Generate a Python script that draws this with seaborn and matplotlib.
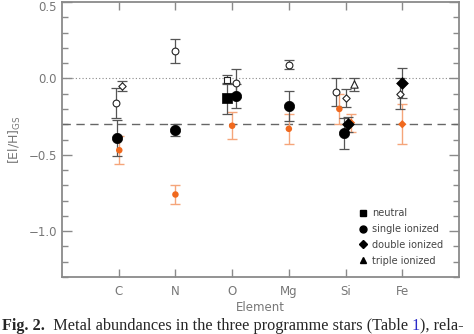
import numpy as np
import pandas as pd
import matplotlib
matplotlib.use("Agg")
import matplotlib.pyplot as plt
import matplotlib.transforms as mtransforms
import seaborn as sns
from matplotlib.lines import Line2D
from matplotlib.ticker import MultipleLocator

# ---------------- data ----------------
elements = ["C", "N", "O", "Mg", "Si", "Fe"]

# star A (open symbols)
a_el = ["C", "C", "N", "O", "O", "Mg", "Si", "Si", "Si", "Fe"]
a_ion = ["II", "III", "II", "I", "II", "II", "II", "III", "IV", "III"]
a_val = [-0.16, -0.05, 0.18, -0.01, -0.03, 0.09, -0.09, -0.13, -0.04, -0.10]
a_err = [0.10, 0.03, 0.08, 0.03, 0.09, 0.03, 0.09, 0.06, 0.045, 0.10]

# star B (filled black symbols)
b_el = ["C", "N", "O", "O", "Mg", "Si", "Si", "Fe"]
b_ion = ["II", "II", "I", "II", "II", "II", "III", "III"]
b_val = [-0.39, -0.34, -0.13, -0.115, -0.18, -0.36, -0.30, -0.03]
b_err = [0.12, 0.04, 0.10, 0.08, 0.10, 0.10, 0.05, 0.10]

# star C (orange symbols)
c_el = ["C", "N", "O", "Mg", "Si", "Si", "Fe"]
c_ion = ["II", "II", "II", "II", "II", "III", "III"]
c_val = [-0.47, -0.76, -0.31, -0.33, -0.20, -0.29, -0.30]
c_err = [0.09, 0.06, 0.09, 0.10, 0.10, 0.06, 0.13]

legend_labels = ["neutral", "single ionized", "double ionized", "triple ionized"]

# ---------------- layout / style ----------------
a_dx = [-0.05, 0.05, 0.0, -0.09, 0.07, 0.0, -0.16, 0.0, 0.14, -0.04]
b_dx = [-0.03, 0.0, -0.09, 0.07, 0.0, -0.035, 0.035, 0.0]
c_dx = [0.01, 0.0, 0.0, 0.0, -0.11, 0.095, 0.0]

markers = {"I": "s", "II": "o", "III": "D", "IV": "^"}
ORANGE = "#F0691E"
ORANGE_ERR = "#F5A57A"
GRAY = "#8a8a8a"
ERRGRAY = "#555555"

sns.set_style("ticks")
plt.rcParams['font.family'] = ['DejaVu Sans']

fig = plt.figure(figsize=(4.74, 3.34), dpi=100)
ax = fig.add_axes([62/474, 1-277/334, (459-62)/474, 275/334])

pos = {e: i + 1 for i, e in enumerate(elements)}

def make_df(el, ion, val, err, dx):
    df = pd.DataFrame({"el": el, "ion": ion, "val": val, "err": err, "dx": dx})
    df["x"] = df["el"].map(pos) + df["dx"]
    return df

dfa = make_df(a_el, a_ion, a_val, a_err, a_dx)
dfb = make_df(b_el, b_ion, b_val, b_err, b_dx)
dfc = make_df(c_el, c_ion, c_val, c_err, c_dx)

# reference lines
ax.axhline(0.0, color=GRAY, ls=(0, (1, 2)), lw=0.8, zorder=1)
ax.axhline(-0.3, color="#666666", ls=(0, (6, 4)), lw=1.0, zorder=1)

# error bars
ax.errorbar(dfc["x"], dfc["val"], yerr=dfc["err"], fmt="none", ecolor=ORANGE_ERR,
            elinewidth=1.0, capsize=3.5, capthick=1.0, zorder=2)
ax.errorbar(dfa["x"], dfa["val"], yerr=dfa["err"], fmt="none", ecolor=ERRGRAY,
            elinewidth=0.9, capsize=3.5, capthick=0.9, zorder=2)
ax.errorbar(dfb["x"], dfb["val"], yerr=dfb["err"], fmt="none", ecolor=ERRGRAY,
            elinewidth=0.9, capsize=3.5, capthick=0.9, zorder=2)

sizes_a = {"I": 24, "II": 24, "III": 14, "IV": 28}
sizes_b = {"I": 50, "II": 55, "III": 36}
sizes_c = {"II": 22, "III": 18}

for ion, g in dfc.groupby("ion"):
    sns.scatterplot(data=g, x="x", y="val", marker=markers[ion], s=sizes_c[ion],
                    color=ORANGE, edgecolor="none", linewidth=0, ax=ax, legend=False, zorder=3)
for ion, g in dfa.groupby("ion"):
    sns.scatterplot(data=g, x="x", y="val", marker=markers[ion], s=sizes_a[ion],
                    facecolor="white", edgecolor="#222222", linewidth=0.8, ax=ax,
                    legend=False, zorder=4)
for ion, g in dfb.groupby("ion"):
    sns.scatterplot(data=g, x="x", y="val", marker=markers[ion], s=sizes_b[ion],
                    color="black", edgecolor="black", linewidth=0.5, ax=ax,
                    legend=False, zorder=5)

# axes
ax.set_xlim(0, 7)
ax.set_ylim(-1.3, 0.5)
ax.set_xticks(range(1, len(elements) + 1))
ax.set_xticklabels(elements)
ax.set_yticks([-1.0, -0.5, 0.0, 0.5])
ax.yaxis.set_minor_locator(MultipleLocator(0.1))
ax.tick_params(axis="both", which="both", direction="in", top=True, right=True,
               colors=GRAY, labelcolor="#777777", labelsize=8.5, width=1.0)
ax.tick_params(axis="y", which="major", length=7)
ax.tick_params(axis="y", which="minor", length=4)
ax.tick_params(axis="x", which="major", length=6, pad=6)
for s in ax.spines.values():
    s.set_color(GRAY)
    s.set_linewidth(1.3)
ax.set_xlabel("Element", color="#777777", fontsize=8.5, labelpad=2)
ax.set_ylabel(r"[El/H]$_{\mathrm{GS}}$", color="#777777", fontsize=9, labelpad=4)

# nudge the top tick label down so it stays inside the figure
fig.canvas.draw()
top_lab = ax.get_yticklabels()[-1]
top_lab.set_transform(top_lab.get_transform() +
                      mtransforms.ScaledTranslation(0, -4/100, fig.dpi_scale_trans))

handles = [Line2D([], [], ls="none", marker=markers[k], color="black",
                  markersize=ms) for k, ms in zip(["I", "II", "III", "IV"], [5, 5, 4.5, 5])]
leg = ax.legend(handles, legend_labels, loc="lower right", bbox_to_anchor=(0.975, 0.02),
                frameon=False, fontsize=7.0, handlelength=0.6, handletextpad=0.6,
                labelspacing=0.6, borderaxespad=0.2)
for t in leg.get_texts():
    t.set_color("#444444")

# caption
cap_fs = 11.7
t1 = fig.text(0.004, 0.013, "Fig. 2.", fontsize=cap_fs, fontweight="bold",
              family=["Liberation Serif"], ha="left", va="baseline")
t2 = ax.annotate("  Metal abundances in the three programme stars (Table ", xy=(1, 0),
                 xycoords=t1, va="bottom", ha="left", fontsize=cap_fs,
                 family=["Liberation Serif"], annotation_clip=False)
t3 = ax.annotate("1", xy=(1, 0), xycoords=t2, va="bottom", ha="left", fontsize=cap_fs,
                 family=["Liberation Serif"], color="#2a2ac8", annotation_clip=False)
t4 = ax.annotate("), rela-", xy=(1, 0), xycoords=t3, va="bottom", ha="left", fontsize=cap_fs,
                 family=["Liberation Serif"], annotation_clip=False)

fig.savefig("out.png", dpi=100)
